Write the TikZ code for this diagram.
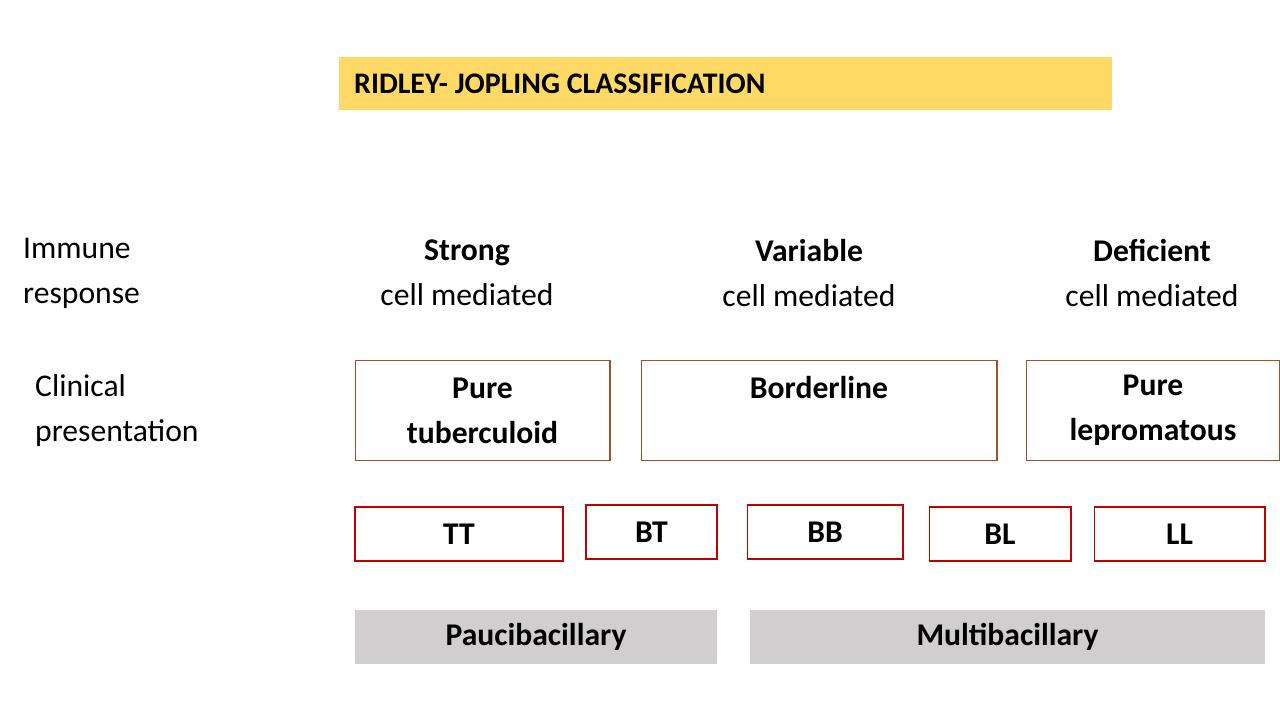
\documentclass[tikz,border=0pt]{standalone}
\usepackage{fontspec}
\setmainfont{Carlito}
\usetikzlibrary{positioning}
\definecolor{titleyellow}{HTML}{FFD966}
\definecolor{boxbrown}{HTML}{A0522D}
\definecolor{boxred}{HTML}{C00000}
\definecolor{bargray}{HTML}{D0CECE}
\tikzset{
  lbl/.style={font=\fontsize{18}{25.6}\selectfont, align=left, anchor=west},
  head/.style={font=\fontsize{18}{25.6}\selectfont, align=center},
  clin/.style={draw=boxbrown, line width=.6pt, font=\fontsize{18}{25.6}\selectfont\bfseries, align=center, inner sep=0pt},
  code/.style={draw=boxred, line width=.6pt, font=\fontsize{18}{22}\selectfont\bfseries, inner sep=0pt},
  bar/.style={fill=bargray, font=\fontsize{18}{22}\selectfont\bfseries, inner sep=0pt}
}
\begin{document}
\begin{tikzpicture}[x=0.02cm, y=-0.02cm]
\useasboundingbox (0,0) rectangle (1280,720);
% Title
\fill[titleyellow] (339,57) rectangle (1112,110);
\node[anchor=west, font=\fontsize{17}{20}\selectfont\bfseries] (title) at (348,84) {RIDLEY- JOPLING CLASSIFICATION};
% Row labels
\node[lbl] (immune) at (17,273) {Immune\\response};
\node[lbl] (clinical) at (29,411) {Clinical\\presentation};
% Immune response
\node[head] (strong) at (467,273) {\textbf{Strong}\\cell mediated};
\node[head] (variable) at (809,273) {\textbf{Variable}\\cell mediated};
\node[head] (deficient) at (1152,273) {\textbf{Deficient}\\cell mediated};
% Clinical boxes
\node[clin, minimum width=5.1cm, minimum height=2cm] (tub) at (482.5,410.5) {Pure\\tuberculoid};
\node[clin, minimum width=7.12cm, minimum height=2cm] (bord) at (819,410.5) {};
\node[font=\fontsize{18}{22}\selectfont\bfseries] (bordtxt) at (819,388) {Borderline};
\node[clin, minimum width=5.08cm, minimum height=2cm] (lep) at (1153,410.5) {Pure\\lepromatous};
% Codes
\node[code, minimum width=4.16cm, minimum height=1.08cm] (tt) at (459,534) {TT};
\node[code, minimum width=2.62cm, minimum height=1.08cm] (bt) at (651.5,532) {BT};
\node[code, minimum width=3.12cm, minimum height=1.08cm] (bb) at (825,532) {BB};
\node[code, minimum width=2.84cm, minimum height=1.08cm] (bl) at (1000,534) {BL};
\node[code, minimum width=3.42cm, minimum height=1.08cm] (ll) at (1179.5,534) {LL};
% Bacillary load
\node[bar, minimum width=7.24cm, minimum height=1.08cm] (pauci) at (536,637) {Paucibacillary};
\node[bar, minimum width=10.3cm, minimum height=1.08cm] (multi) at (1007.5,637) {Multibacillary};
\end{tikzpicture}
\end{document}
